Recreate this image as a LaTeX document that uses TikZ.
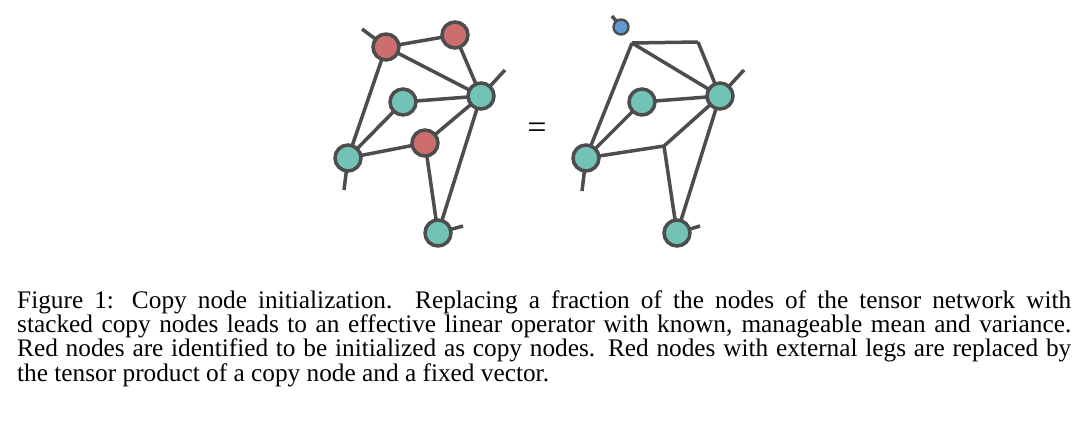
\documentclass[tikz,border=0pt]{standalone}
\usepackage{fontspec}
\setmainfont{Liberation Serif}
\begin{document}
\begin{tikzpicture}[x=1pt,y=-1pt,
  ln/.style={draw=lc,line width=3.5pt},
  tn/.style={circle,draw=lc,line width=3.5pt,minimum size=26pt,inner sep=0pt,fill=teal1},
  rn/.style={tn,fill=red1},
  bn/.style={circle,draw=lc,line width=2.4pt,minimum size=15pt,inner sep=0pt,fill=blue1}]
\definecolor{lc}{RGB}{77,77,77}
\definecolor{teal1}{RGB}{114,194,184}
\definecolor{red1}{RGB}{205,110,110}
\definecolor{blue1}{RGB}{96,152,208}
\useasboundingbox (0,0) rectangle (1086,426);
% left network
\coordinate (la) at (362,29); \coordinate (lc) at (505,70);
\coordinate (lf) at (344,190); \coordinate (lg) at (463,226);
\path (386,47) coordinate (A0) (455,35) coordinate (B0) (481,96) coordinate (C0)
 (403,102) coordinate (D0) (425,143) coordinate (E0) (348,158) coordinate (F0) (438,233) coordinate (G0);
\draw[ln] (A0)--(la) (C0)--(lc) (F0)--(lf) (G0)--(lg)
 (A0)--(B0) (A0)--(C0) (A0)--(F0) (B0)--(C0) (D0)--(C0) (D0)--(F0) (F0)--(E0) (E0)--(C0) (E0)--(G0) (C0)--(G0);
\node[rn] (A) at (A0) {}; \node[rn] (B) at (B0) {}; \node[tn] (C) at (C0) {};
\node[tn] (D) at (D0) {}; \node[rn] (E) at (E0) {}; \node[tn] (F) at (F0) {}; \node[tn] (G) at (G0) {};
\node[font=\fontsize{34}{34}\selectfont] (eq) at (537,131) {=};
% right network
\coordinate (ra) at (612,16); \coordinate (rc) at (744,70);
\coordinate (rf) at (582,191); \coordinate (rg) at (700,226);
\coordinate (J1) at (632,43); \coordinate (J2) at (698,42); \coordinate (J3) at (664,146);
\path (720,96) coordinate (C1) (642,102) coordinate (D1) (586,158) coordinate (F1) (677,233) coordinate (G1) (621,27) coordinate (H1);
\draw[ln] (H1)--(ra) (C1)--(rc) (F1)--(rf) (G1)--(rg)
 (J1)--(J2) (J1)--(C1) (J2)--(C1) (J1)--(F1) (D1)--(F1) (D1)--(C1) (F1)--(J3) (J3)--(C1) (J3)--(G1) (C1)--(G1);
\node[bn] (H) at (H1) {}; \node[tn] (C') at (C1) {}; \node[tn] (D') at (D1) {};
\node[tn] (F') at (F1) {}; \node[tn] (G') at (G1) {};
% caption
\node[anchor=north west,inner sep=0pt,text width=1054pt,align=justify,
  font=\fontsize{25.3}{24.4}\selectfont] (cap) at (17,290)
{Figure 1: Copy node initialization. Replacing a fraction of the nodes of the tensor network with\linebreak stacked copy nodes leads to an effective linear operator with known, manageable mean and variance.\linebreak Red nodes are identified to be initialized as copy nodes. Red nodes with external legs are replaced by\linebreak the tensor product of a copy node and a fixed vector.};
\end{tikzpicture}
\end{document}
